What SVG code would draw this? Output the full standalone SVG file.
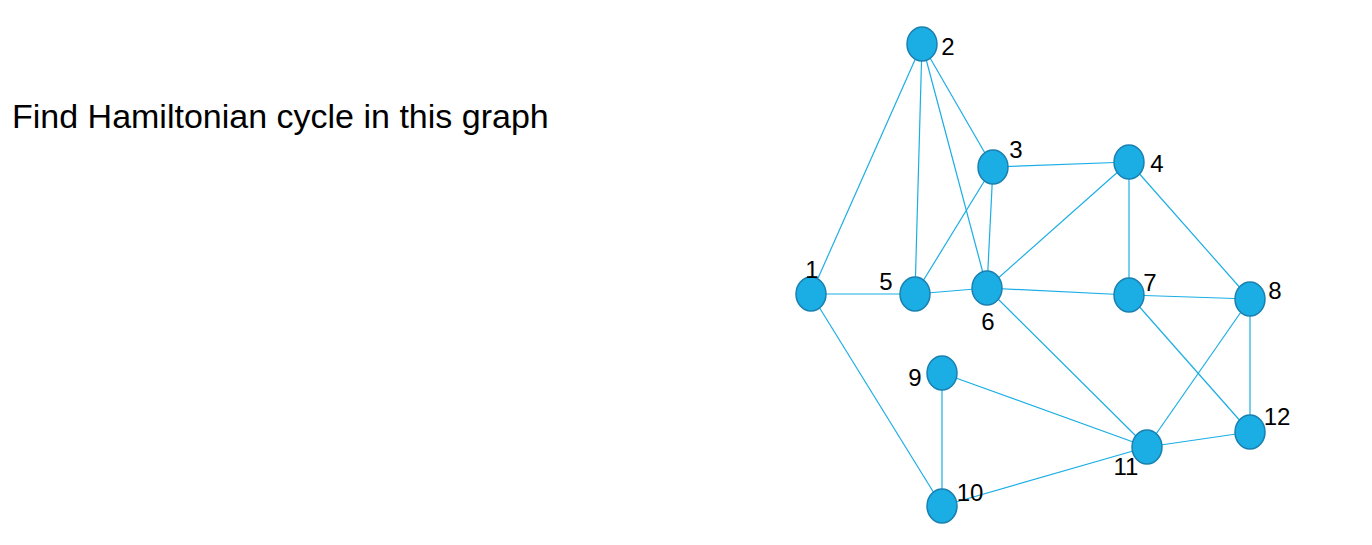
<svg xmlns="http://www.w3.org/2000/svg" width="1372" height="545" viewBox="0 0 1372 545">
<style>
.n{fill:#1baee4;stroke:#1a80b0;stroke-width:1.5}
.e{stroke:#1baee4;stroke-width:1.2;fill:none}
text{font-family:"Liberation Sans",Arial,sans-serif;fill:#000}
.l{font-size:24px;text-anchor:middle}
</style>
<rect width="1372" height="545" fill="#fff"/>
<text x="12" y="128" font-size="34">Find Hamiltonian cycle in this graph</text>
<g id="edges" class="e">
<line x1="811" y1="294" x2="922" y2="44"/>
<line x1="811" y1="294" x2="915" y2="294"/>
<line x1="811" y1="294" x2="942" y2="506"/>
<line x1="922" y1="44" x2="915" y2="294"/>
<line x1="922" y1="44" x2="987" y2="288"/>
<line x1="922" y1="44" x2="993" y2="167"/>
<line x1="993" y1="167" x2="1129" y2="162"/>
<line x1="993" y1="167" x2="915" y2="294"/>
<line x1="993" y1="167" x2="987" y2="288"/>
<line x1="1129" y1="162" x2="987" y2="288"/>
<line x1="1129" y1="162" x2="1129" y2="295"/>
<line x1="1129" y1="162" x2="1250" y2="299"/>
<line x1="915" y1="294" x2="987" y2="288"/>
<line x1="987" y1="288" x2="1129" y2="295"/>
<line x1="1129" y1="295" x2="1250" y2="299"/>
<line x1="987" y1="288" x2="1147" y2="447"/>
<line x1="1129" y1="295" x2="1250" y2="432"/>
<line x1="1250" y1="299" x2="1147" y2="447"/>
<line x1="1250" y1="299" x2="1250" y2="432"/>
<line x1="942" y1="373" x2="1147" y2="447"/>
<line x1="942" y1="373" x2="942" y2="506"/>
<line x1="942" y1="506" x2="1147" y2="447"/>
<line x1="1147" y1="447" x2="1250" y2="432"/>
</g>
<g id="n1"><ellipse class="n" cx="811" cy="294" rx="15" ry="17"/><text class="l" x="812" y="278">1</text></g>
<g id="n2"><ellipse class="n" cx="922" cy="44" rx="15" ry="17"/><text class="l" x="948" y="55">2</text></g>
<g id="n3"><ellipse class="n" cx="993" cy="167" rx="15" ry="17"/><text class="l" x="1016" y="158">3</text></g>
<g id="n4"><ellipse class="n" cx="1129" cy="162" rx="15" ry="17"/><text class="l" x="1157" y="172">4</text></g>
<g id="n5"><ellipse class="n" cx="915" cy="294" rx="15" ry="17"/><text class="l" x="886" y="290">5</text></g>
<g id="n6"><ellipse class="n" cx="987" cy="288" rx="15" ry="17"/><text class="l" x="988" y="330">6</text></g>
<g id="n7"><ellipse class="n" cx="1129" cy="295" rx="15" ry="17"/><text class="l" x="1150" y="291">7</text></g>
<g id="n8"><ellipse class="n" cx="1250" cy="299" rx="15" ry="17"/><text class="l" x="1275" y="299">8</text></g>
<g id="n9"><ellipse class="n" cx="942" cy="373" rx="15" ry="17"/><text class="l" x="915" y="386">9</text></g>
<g id="n10"><ellipse class="n" cx="942" cy="506" rx="15" ry="17"/><text class="l" x="970" y="501">10</text></g>
<g id="n11"><ellipse class="n" cx="1147" cy="447" rx="15" ry="17"/><text class="l" x="1126" y="475">11</text></g>
<g id="n12"><ellipse class="n" cx="1250" cy="432" rx="15" ry="17"/><text class="l" x="1277" y="425">12</text></g>
</svg>
